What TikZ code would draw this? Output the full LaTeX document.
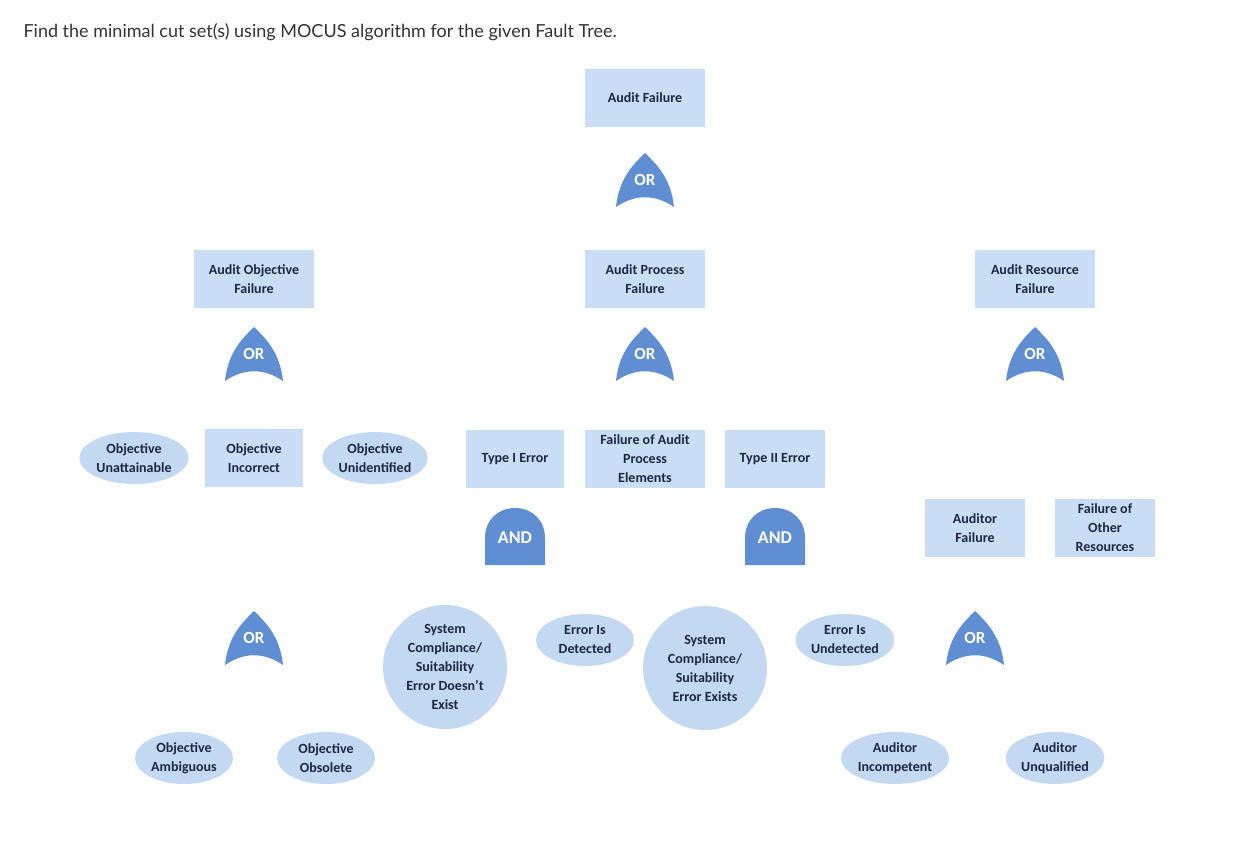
\documentclass[tikz,border=0pt]{standalone}
\usepackage{fontspec}
\setmainfont{Carlito}
\newfontfamily\titlefont{Lato}
\usetikzlibrary{backgrounds,shapes.geometric}
\definecolor{boxc}{HTML}{C9DDF5}
\definecolor{ellc}{HTML}{C3D8F1}
\definecolor{gatec}{HTML}{5F8ED2}
\definecolor{txt}{HTML}{1E2840}
\begin{document}
\begin{tikzpicture}[x=1pt,y=-1pt,
  box/.style={fill=boxc,minimum width=#1,minimum height=58,inner sep=2pt,align=center,font=\bfseries\fontsize{14}{19}\selectfont,text=txt},
  box/.default=120,
  ev/.style={ellipse,fill=ellc,minimum width=#1,minimum height=52,inner sep=1pt,align=center,font=\bfseries\fontsize{14}{19}\selectfont,text=txt},
  ev/.default=98,
  bigev/.style={circle,fill=ellc,minimum size=124,inner sep=0pt,align=center,font=\bfseries\fontsize{14}{19}\selectfont,text=txt},
  conn/.style={draw=gatec,line width=3pt},
  orgate/.pic={
    \fill[gatec] (-29,0) .. controls (-26,-30) and (-10,-44) .. (0,-54) .. controls (10,-44) and (26,-30) .. (29,0) .. controls (10,-13) and (-10,-13) .. (-29,0) -- cycle;
    \node[text=white,font=\bfseries\fontsize{17}{17}\selectfont] at (0,-27) {OR};
    \coordinate (-top) at (0,-54);
    \coordinate (-l) at (-13,-6);
    \coordinate (-c) at (0,-6);
    \coordinate (-r) at (13,-6);
  },
  andgate/.pic={
    \fill[gatec] (-30,0) -- (-30,-27) .. controls (-30,-45) and (-17,-57) .. (0,-57) .. controls (17,-57) and (30,-45) .. (30,-27) -- (30,0) -- cycle;
    \node[text=white,font=\bfseries\fontsize{18}{18}\selectfont] at (0,-27) {AND};
    \coordinate (-top) at (0,-57);
    \coordinate (-l) at (-13,-2);
    \coordinate (-r) at (13,-2);
  }]
\useasboundingbox[fill=white] (0,0) rectangle (1234,851);
\node[anchor=west,font=\titlefont\fontsize{18}{20}\selectfont,text=black!80] (title) at (20,32) {Find the minimal cut set(s) using MOCUS algorithm for the given Fault Tree.};

% level 1
\node[box] (af) at (645,98) {Audit Failure};
\pic (g1) at (645,207) {orgate};
% level 2
\node[box] (aof) at (254,279) {Audit Objective\\Failure};
\node[box] (apf) at (645,279) {Audit Process\\Failure};
\node[box] (arf) at (1035,279) {Audit Resource\\Failure};
\pic (g2) at (254,381) {orgate};
\pic (g3) at (645,381) {orgate};
\pic (g4) at (1035,381) {orgate};
% level 3
\node[ev] (ounat) at (134,458) {Objective\\Unattainable};
\node[box=98] (oinc) at (254,458) {Objective\\Incorrect};
\node[ev] (ounid) at (375,458) {Objective\\Unidentified};
\node[box=98] (t1) at (515,459) {Type I Error};
\node[box=120] (fape) at (645,459) {Failure of Audit\\Process\\Elements};
\node[box=100] (t2) at (775,459) {Type II Error};
\node[box=100] (auf) at (975,528) {Auditor\\Failure};
\node[box=100] (for) at (1105,528) {Failure of\\Other\\Resources};
% gates level 3
\pic (a1) at (515,565) {andgate};
\pic (a2) at (775,565) {andgate};
\pic (g5) at (254,665) {orgate};
\pic (g6) at (975,665) {orgate};
% level 4
\node[bigev] (sc1) at (445,667) {System\\Compliance/\\Suitability\\Error Doesn't\\Exist};
\node[ev] (eid) at (585,640) {Error Is\\Detected};
\node[bigev] (sc2) at (705,668) {System\\Compliance/\\Suitability\\Error Exists};
\node[ev] (eiu) at (845,640) {Error Is\\Undetected};
\node[ev] (oamb) at (184,758) {Objective\\Ambiguous};
\node[ev] (oobs) at (326,758) {Objective\\Obsolete};
\node[ev] (ainc) at (895,758) {Auditor\\Incompetent};
\node[ev] (aunq) at (1055,758) {Auditor\\Unqualified};

\begin{scope}[on background layer]
\draw[conn] (af) -- (g1-top);
\draw[conn] (g1-l) -- ++(0,27) -| (aof);
\draw[conn] (g1-c) -- (apf);
\draw[conn] (g1-r) -- ++(0,27) -| (arf);
\draw[conn] (aof) -- (g2-top);
\draw[conn] (apf) -- (g3-top);
\draw[conn] (arf) -- (g4-top);
\draw[conn] (g2-l) -- ++(0,33) -| (ounat);
\draw[conn] (g2-c) -- (oinc);
\draw[conn] (g2-r) -- ++(0,33) -| (ounid);
\draw[conn] (g3-l) -- ++(0,33) -| (t1);
\draw[conn] (g3-c) -- (fape);
\draw[conn] (g3-r) -- ++(0,33) -| (t2);
\draw[conn] (g4-l) -- ++(0,67) -| (auf);
\draw[conn] (g4-r) -- ++(0,67) -| (for);
\draw[conn] (t1) -- (a1-top);
\draw[conn] (t2) -- (a2-top);
\draw[conn] (oinc) -- (g5-top);
\draw[conn] (auf) -- (g6-top);
\draw[conn] (a1-l) -- ++(0,25) -| (sc1);
\draw[conn] (a1-r) -- ++(0,25) -| (eid);
\draw[conn] (a2-l) -- ++(0,25) -| (sc2);
\draw[conn] (a2-r) -- ++(0,25) -| (eiu);
\draw[conn] (g5-l) -- ++(0,39) -| (oamb);
\draw[conn] (g5-r) -- ++(0,39) -| (oobs);
\draw[conn] (g6-l) -- ++(0,39) -| (ainc);
\draw[conn] (g6-r) -- ++(0,39) -| (aunq);
\end{scope}
\end{tikzpicture}
\end{document}
